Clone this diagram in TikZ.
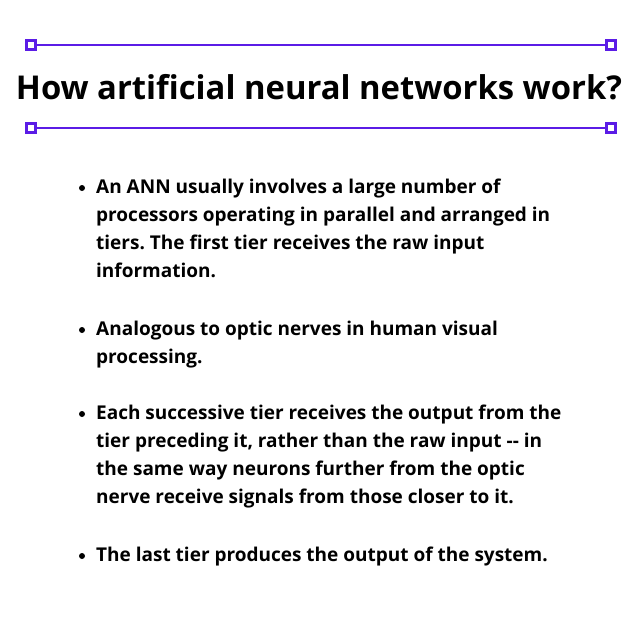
\documentclass[tikz,border=0pt]{standalone}
\usepackage{fontspec}
\setmainfont{Open Sans}[UprightFont=* Bold]
\frenchspacing
\definecolor{pur}{HTML}{5B1CE6}
\begin{document}
\begin{tikzpicture}[x=1pt,y=-1pt,
  sq/.style={draw=pur,line width=2.6pt,fill=white,minimum size=9pt,inner sep=0pt},
  rule/.style={draw=pur,line width=2.6pt},
  para/.style={anchor=north west,inner sep=0pt,align=left,font=\fontsize{19}{28}\selectfont},
  dot/.style={circle,fill=black,inner sep=0pt,minimum size=6pt}]
\useasboundingbox[fill=white] (0,0) rectangle (638,638);
\node[sq] (a1) at (31,45) {}; \node[sq] (a2) at (611,45) {};
\draw[rule] (a1) -- (a2);
\node[sq] (b1) at (31,128) {}; \node[sq] (b2) at (611,128) {};
\draw[rule] (b1) -- (b2);
\node[font=\fontsize{32.8}{36}\selectfont] (t) at (319,87) {How artificial neural networks work?};
\node[para] (p1) at (96,179) {An ANN usually involves a large number of\\processors operating in parallel and arranged in\\tiers. The first tier receives the raw input\\information.};
\node[para] (p2) at (96,321) {Analogous to optic nerves in human visual\\processing.};
\node[para] (p3) at (96,405) {Each successive tier receives the output from the\\tier preceding it, rather than the raw input {-}{-} in\\the same way neurons further from the optic\\nerve receive signals from those closer to it.};
\node[para] (p4) at (96,547) {The last tier produces the output of the system.};
\node[dot] (d1) at (82,188) {};
\node[dot] (d2) at (82,330) {};
\node[dot] (d3) at (82,414) {};
\node[dot] (d4) at (82,556) {};
\end{tikzpicture}
\end{document}
